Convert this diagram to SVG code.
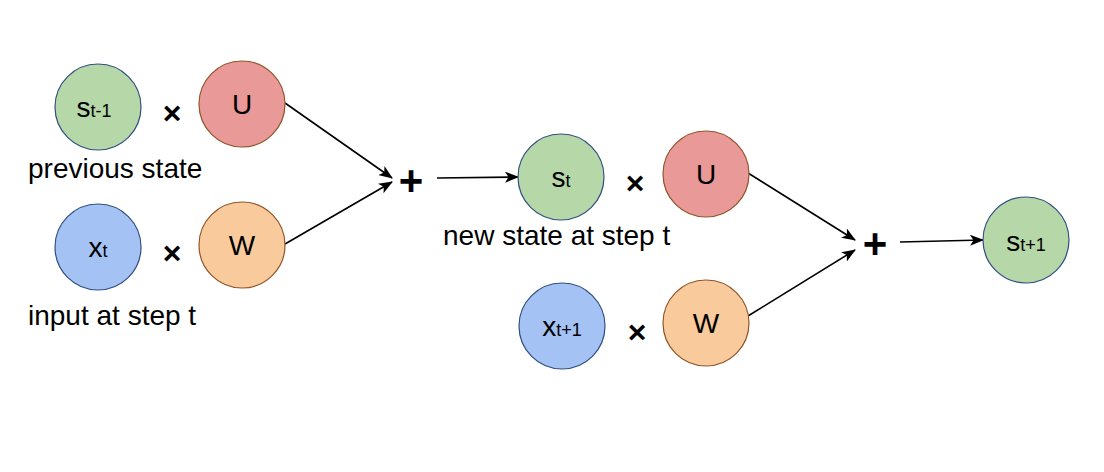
<svg xmlns="http://www.w3.org/2000/svg" width="1104" height="472" viewBox="0 0 1104 472">
  <style>
    text { font-family: "Liberation Sans", Arial, sans-serif; fill: #000; }
    .lbl { font-size: 28px; text-anchor: middle; }
    .sub { font-size: 18px; }
    .cap { font-size: 28px; }
    .op { font-size: 32px; font-weight: bold; text-anchor: middle; }
    .plus { font-size: 42px; font-weight: bold; text-anchor: middle; }
    .green { fill: #b6d7a8; stroke: #2f4f80; stroke-width: 1.2; }
    .blue { fill: #a4c2f4; stroke: #2f4f80; stroke-width: 1.2; }
    .red { fill: #ea9999; stroke: #8f5428; stroke-width: 1.2; }
    .orange { fill: #f9cb9c; stroke: #8f5428; stroke-width: 1.2; }
    .edge { stroke: #000; stroke-width: 1.6; fill: none; marker-end: url(#arrow); }
  </style>
  <defs>
    <marker id="arrow" viewBox="0 0 14 11" refX="13" refY="5.5" markerWidth="14" markerHeight="11" markerUnits="userSpaceOnUse" orient="auto">
      <path d="M0,0 L14,5.5 L0,11 L3.5,5.5 Z" fill="#000"/>
    </marker>
  </defs>
  <rect width="1104" height="472" fill="#fff"/>

  <g id="connectors">
    <line class="edge" x1="285" y1="103" x2="392" y2="178"/>
    <line class="edge" x1="285" y1="244" x2="392" y2="182"/>
    <line class="edge" x1="437" y1="178" x2="518" y2="177"/>
    <line class="edge" x1="748" y1="173" x2="855" y2="240"/>
    <line class="edge" x1="748" y1="316" x2="855" y2="250"/>
    <line class="edge" x1="900" y1="242" x2="983" y2="240"/>
  </g>

  <g id="s_prev">
    <circle class="green" cx="98" cy="107" r="43"/>
    <text class="lbl" x="94" y="117">s<tspan class="sub">t-1</tspan></text>
  </g>
  <g id="U1">
    <circle class="red" cx="242" cy="104" r="43"/>
    <text class="lbl" x="242" y="114">U</text>
  </g>
  <g id="x_t">
    <circle class="blue" cx="98" cy="247" r="43"/>
    <text class="lbl" x="98" y="257">x<tspan class="sub">t</tspan></text>
  </g>
  <g id="W1">
    <circle class="orange" cx="242" cy="245" r="43"/>
    <text class="lbl" x="242" y="255">W</text>
  </g>
  <g id="s_t">
    <circle class="green" cx="561" cy="177" r="43"/>
    <text class="lbl" x="561" y="187">s<tspan class="sub">t</tspan></text>
  </g>
  <g id="U2">
    <circle class="red" cx="706" cy="174" r="43"/>
    <text class="lbl" x="706" y="184">U</text>
  </g>
  <g id="x_next">
    <circle class="blue" cx="562" cy="326" r="43"/>
    <text class="lbl" x="562" y="336">x<tspan class="sub">t+1</tspan></text>
  </g>
  <g id="W2">
    <circle class="orange" cx="706" cy="323" r="43"/>
    <text class="lbl" x="706" y="333">W</text>
  </g>
  <g id="s_next">
    <circle class="green" cx="1026" cy="240" r="43"/>
    <text class="lbl" x="1026" y="251">s<tspan class="sub">t+1</tspan></text>
  </g>

  <g id="operators">
    <text class="op" x="172" y="124">×</text>
    <text class="op" x="172" y="264">×</text>
    <text class="op" x="635" y="194">×</text>
    <text class="op" x="637" y="343">×</text>
    <text class="plus" x="411" y="195">+</text>
    <text class="plus" x="875" y="258">+</text>
  </g>

  <g id="captions">
    <text class="cap" x="28" y="178">previous state</text>
    <text class="cap" x="28" y="325">input at step t</text>
    <text class="cap" x="443" y="245">new state at step t</text>
  </g>
</svg>
